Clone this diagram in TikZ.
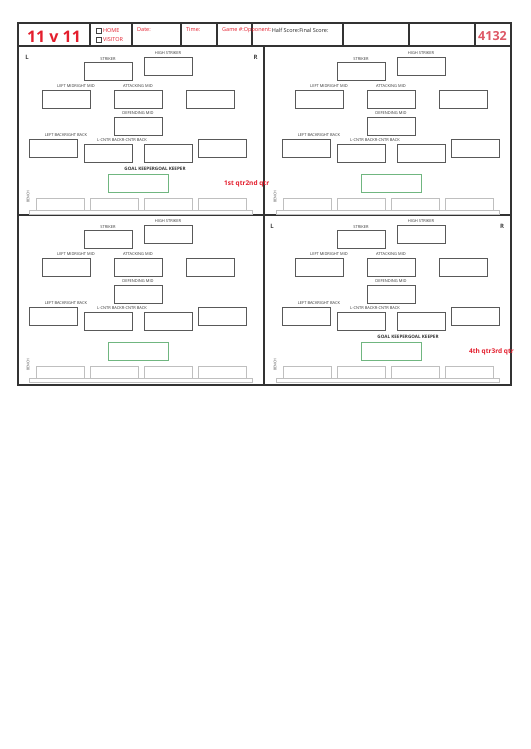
\documentclass[tikz,border=0pt]{standalone}
\usepackage{fontspec}
\setmainfont{Open Sans}
\usetikzlibrary{positioning}
\definecolor{rojo}{RGB}{228,30,45}
\definecolor{rosa}{RGB}{222,88,102}
\definecolor{verde}{RGB}{112,182,128}
\begin{document}
\begin{tikzpicture}[x=1pt, y=-1pt,
        marco/.style={draw=black!80, line width=1.2pt},
        posbox/.style={draw=black!65, line width=0.8pt, minimum width=48pt,
        minimum height=18pt, inner sep=0pt},
        keeperbox/.style={posbox, draw=verde, minimum width=60pt},
        benchbox/.style={draw=black!25, line width=0.7pt, minimum width=48pt,
        minimum height=12pt, inner sep=0pt},
        poslabel/.style={font=\fontsize{4}{4}\selectfont, text=black!80, inner sep=0pt},
        hdr/.style={font=\fontsize{5.5}{5.5}\selectfont, text=rojo, inner sep=0pt, anchor=west},
        qtr/.style={font=\bfseries\fontsize{6.5}{6.5}\selectfont, text=rojo, inner sep=0pt, anchor=west},
        side/.style={font=\bfseries\fontsize{6}{6}\selectfont, text=black!75, inner sep=0pt}
    ]
        \fill[white] (0,0) rectangle (530,749);
        \useasboundingbox (0,0) rectangle (530,749);
        % frame
        \draw[marco] (18,23) rectangle (511,385);
        \draw[marco] (18,46) -- (511,46);
        \foreach \x in {90,132,181,217,252,343,409,475}
            \draw[marco] (\x,23) -- (\x,46);
        \draw[marco] (264,46) -- (264,385);
        \draw[marco] (18,215) -- (511,215);
        % header
        \node[font=\bfseries\fontsize{16}{16}\selectfont, text=rojo, inner sep=0pt] (title) at (54,36.5) {11 v 11};
        \node[draw=black!75, line width=0.6pt, minimum size=5pt, inner sep=0pt] (homebox) at (99,30.5) {};
        \node[draw=black!75, line width=0.6pt, minimum size=5pt, inner sep=0pt] (visitorbox) at (99,39.5) {};
        \node[hdr, right=1pt of homebox] (home) {HOME};
        \node[hdr, right=1pt of visitorbox] (visitor) {VISITOR};
        \node[hdr] (date) at (137,30) {Date:};
        \node[hdr] (time) at (186,30) {Time:};
        \node[hdr] (game) at (222,30) {Game \#:Opponent:};
        \node[hdr, text=black!85, anchor=west] (score) at (game.east) {Half Score:Final Score:};
        \node[font=\bfseries\fontsize{12.5}{12.5}\selectfont, text=rosa, inner sep=0pt] (formation) at (492.5,36) {4132};
        % the four quarters
        \foreach \q/\px/\bx/\dy in {a/0/0/0, b/253/247/0, c/0/0/168, d/253/247/168} {
            \begin{scope}[shift={(\px,\dy)}]
                \node[posbox] (striker-\q) at (108,71.5) {};
                \node[posbox] (high-\q) at (168,66) {};
                \node[posbox] (leftmid-\q) at (66,99) {};
                \node[posbox] (attmid-\q) at (138,99) {};
                \node[posbox] (rightmid-\q) at (210.5,99) {};
                \node[posbox] (defmid-\q) at (138,126) {};
                \node[posbox] (leftback-\q) at (53.5,148) {};
                \node[posbox] (lcback-\q) at (108,153) {};
                \node[posbox] (rcback-\q) at (168,153) {};
                \node[posbox] (rightback-\q) at (222.5,148) {};
                \node[keeperbox] (keeper-\q) at (138,183) {};
                \node[poslabel, above=1pt of striker-\q] {STRIKER};
                \node[poslabel, above=1.5pt of high-\q] {HIGH STRIKER};
                \node[poslabel, above=1.5pt of leftmid-\q, xshift=10pt] {LEFT MIDRIGHT MID};
                \node[poslabel, above=1.5pt of attmid-\q] {ATTACKING MID};
                \node[poslabel, above=1.5pt of defmid-\q] {DEFENDING MID};
                \node[poslabel, above=1.5pt of leftback-\q, xshift=12.5pt] {LEFT BACKRIGHT BACK};
                \node[poslabel, above=1.5pt of lcback-\q, xshift=14pt] {L-CNTR BACKR-CNTR BACK};
            \end{scope}
            \begin{scope}[shift={(\bx,\dy)}]
                \node[benchbox] (bench1-\q) at (60,204) {};
                \node[benchbox] (bench2-\q) at (114,204) {};
                \node[benchbox] (bench3-\q) at (168,204) {};
                \node[benchbox] (bench4-\q) at (222.5,204) {};
                \node[benchbox, fill=white, minimum width=223pt, minimum height=4pt] (bar-\q) at (140.5,212) {};
                \node[font=\fontsize{3.5}{3.5}\selectfont, text=black!75, inner sep=0pt, rotate=90] (bench-\q) at (28,197) {BENCH};
            \end{scope}
        }
        % sides, keeper titles, quarters
        \node[side] (left-a) at (27,57) {L};
        \node[side] (right-a) at (255.5,57) {R};
        \node[side] (left-d) at (272,226) {L};
        \node[side] (right-d) at (502,226) {R};
        \node[poslabel, font=\bfseries\fontsize{4.6}{4.6}\selectfont, above=3pt of keeper-a, xshift=17pt] (gk-a) {GOAL KEEPERGOAL KEEPER};
        \node[poslabel, font=\bfseries\fontsize{4.6}{4.6}\selectfont, above=3pt of keeper-d, xshift=17pt] (gk-d) {GOAL KEEPERGOAL KEEPER};
        \node[qtr] (qtr-top) at (224,183.5) {1st qtr2nd qtr};
        \node[qtr] (qtr-bottom) at (469,352) {4th qtr3rd qtr};
    \end{tikzpicture}
\end{document}
